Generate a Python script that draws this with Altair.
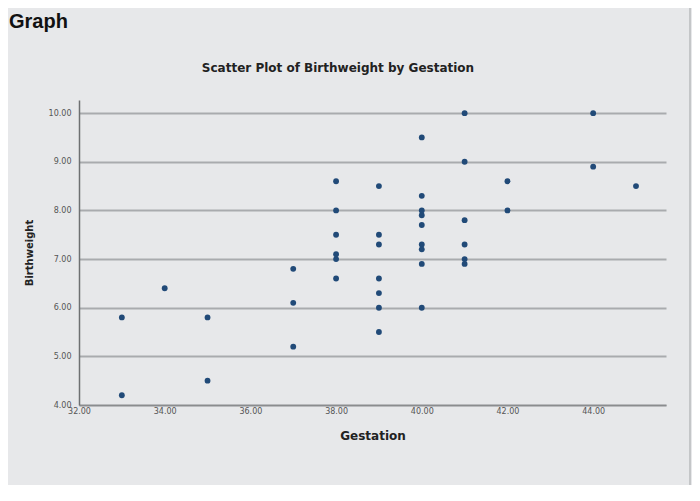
import altair as alt
import pandas as pd

# Gestation (weeks) and Birthweight values
gestation = [33, 33, 34, 35, 35, 37, 37, 37,
             38, 38, 38, 38, 38, 38,
             39, 39, 39, 39, 39, 39, 39,
             40, 40, 40, 40, 40, 40, 40, 40, 40,
             41, 41, 41, 41, 41, 41,
             42, 42, 44, 44, 45]
birthweight = [5.8, 4.2, 6.4, 5.8, 4.5, 6.8, 6.1, 5.2,
               8.6, 8.0, 7.5, 7.1, 7.0, 6.6,
               8.5, 7.5, 7.3, 6.6, 6.3, 6.0, 5.5,
               9.5, 8.3, 8.0, 7.9, 7.7, 7.3, 7.2, 6.9, 6.0,
               10.0, 9.0, 7.8, 7.3, 7.0, 6.9,
               8.6, 8.0, 10.0, 8.9, 8.5]

x_ticks = [32, 34, 36, 38, 40, 42, 44]
y_ticks = [4, 5, 6, 7, 8, 9, 10]

df = pd.DataFrame({"Gestation": gestation, "Birthweight": birthweight})

W, H = 587, 305
BG = "#e7e8ea"

points = alt.Chart(df).mark_circle(size=34, color="#214a78", opacity=1).encode(
    x=alt.X("Gestation:Q",
            scale=alt.Scale(domain=[32, 45.7], nice=False, zero=False),
            axis=alt.Axis(values=x_ticks, format=".2f", title="Gestation",
                          grid=False, ticks=False, domain=True,
                          domainColor="#8a8c8e", domainWidth=1.5,
                          labelFontSize=8, labelColor="#555555",
                          labelPadding=2, labelAlign="center", labelFont="DejaVu Sans",
                          labelFlush=False,
                          titleFontSize=12, titleFont="DejaVu Sans", titleFontWeight="bold",
                          titleColor="#222222", titlePadding=15)),
    y=alt.Y("Birthweight:Q",
            scale=alt.Scale(domain=[4, 10.27], nice=False, zero=False),
            axis=alt.Axis(values=y_ticks, format=".2f", title="Birthweight",
                          grid=True, gridColor="#a9abae", gridWidth=2,
                          ticks=False, domain=True,
                          domainColor="#6e7072", domainWidth=1.5,
                          labelFontSize=8, labelColor="#555555", labelPadding=8,
                          labelFont="DejaVu Sans",
                          titleFontSize=10, titleFont="DejaVu Sans", titleFontWeight="bold",
                          titleColor="#222222", titlePadding=14)),
).properties(width=W, height=H)

graph_label = alt.Chart(pd.DataFrame({"t": ["Graph"]})).mark_text(
    align="left", baseline="middle", fontSize=20, fontWeight="bold",
    font="Liberation Sans", color="#111111"
).encode(x=alt.value(-70), y=alt.value(-78), text="t:N")

title_label = alt.Chart(pd.DataFrame({"t": ["Scatter Plot of Birthweight by Gestation"]})).mark_text(
    align="center", baseline="middle", fontSize=12, fontWeight="bold",
    font="DejaVu Sans", color="#222222"
).encode(x=alt.value(259), y=alt.value(-32), text="t:N")

edge = alt.Chart(pd.DataFrame({"a": [0]})).mark_rule(color="#c4c6c8", strokeWidth=2).encode(
    x=alt.value(611), y=alt.value(-100), y2=alt.value(385)
)

chart = alt.layer(points, graph_label, title_label, edge).properties(
    background=BG,
    autosize=alt.AutoSizeParams(type="none"),
    padding={"left": 71, "top": 92, "right": 26, "bottom": 80},
).configure_view(stroke=None)

chart.save("out.html", embed_options={"renderer": "svg", "actions": False})
